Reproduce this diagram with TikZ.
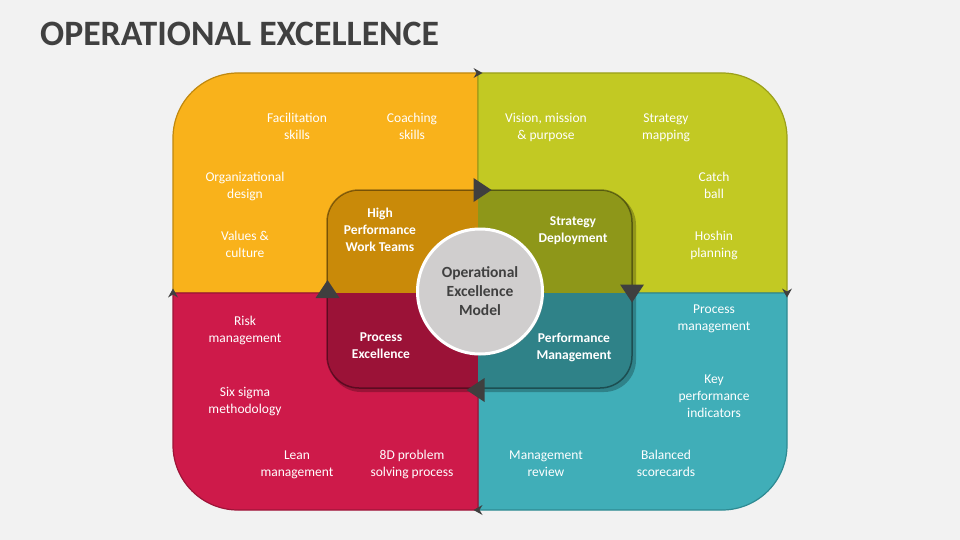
\documentclass[tikz,border=0pt]{standalone}
\usepackage{fontspec}
\setmainfont{Carlito}
\usetikzlibrary{shadows}
\definecolor{bg}{HTML}{F2F2F2}
\definecolor{titlegray}{HTML}{404040}
\definecolor{arrowgray}{HTML}{3F3F3F}
\definecolor{orangeA}{HTML}{F9B21B}
\definecolor{orangeD}{HTML}{C0880E}
\definecolor{orangeB}{HTML}{C98A09}
\definecolor{limeA}{HTML}{C2C923}
\definecolor{limeD}{HTML}{9BA01A}
\definecolor{limeB}{HTML}{8E9719}
\definecolor{redA}{HTML}{CE1A4A}
\definecolor{redD}{HTML}{9E1438}
\definecolor{redB}{HTML}{9B1237}
\definecolor{tealA}{HTML}{40AEB8}
\definecolor{tealD}{HTML}{2E8A92}
\definecolor{tealB}{HTML}{2F8288}
\definecolor{circlegray}{HTML}{D0CECE}
\begin{document}
\begin{tikzpicture}[x=1pt,y=-1pt,
  outerlbl/.style={font=\fontsize{13.5}{17}\selectfont, text=white, align=center, inner sep=0pt,
     execute at begin node=\strut, execute at end node=\strut},
  innerlbl/.style={font=\fontsize{13.5}{17}\selectfont\bfseries, text=white, align=center, inner sep=0pt,
     execute at begin node=\strut, execute at end node=\strut},
  quad/.style={line width=1.2pt},
  chevron/.pic={\fill[arrowgray] (-4.5,-5) -- (4.5,0) -- (-4.5,5) -- (-1.5,0) -- cycle;},
  tripic/.pic={\fill[arrowgray] (-9,-12) -- (9,0) -- (-9,12) -- cycle;}]
\useasboundingbox (0,0) rectangle (960,540);
\fill[bg] (0,0) rectangle (960,540);
\node[anchor=base west, font=\fontsize{35.7}{40}\selectfont\bfseries, text=titlegray, inner sep=0pt] (title) at (40,46) {OPERATIONAL EXCELLENCE};

% outer quadrants
\filldraw[quad, fill=orangeA, draw=orangeD] (478,293) -- (173,293) -- (173,138) arc[start angle=180,end angle=270,radius=65] -- (478,73) -- cycle;
\filldraw[quad, fill=limeA, draw=limeD] (478,73) -- (722,73) arc[start angle=270,end angle=360,radius=65] -- (787,293) -- (478,293) -- cycle;
\filldraw[quad, fill=tealA, draw=tealD] (787,293) -- (787,445) arc[start angle=0,end angle=90,radius=65] -- (478,510) -- (478,293) -- cycle;
\filldraw[quad, fill=redA, draw=redD] (478,510) -- (238,510) arc[start angle=90,end angle=180,radius=65] -- (173,293) -- (478,293) -- cycle;

% outer chevrons
\pic at (478,73) {chevron};
\pic[rotate=-90] at (787,293) {chevron};
\pic[rotate=180] at (478,510) {chevron};
\pic[rotate=90] at (173,293) {chevron};

% inner box shadow
\fill[black, opacity=.25, rounded corners=32pt] (329,193) rectangle (636,392);
\begin{scope}
\clip[rounded corners=32pt] (327,190) rectangle (632,388);
\fill[orangeB] (327,190) rectangle (478,293);
\fill[limeB] (478,190) rectangle (632,293);
\fill[redB] (327,293) rectangle (478,388);
\fill[tealB] (478,293) rectangle (632,388);
\end{scope}
\draw[black, opacity=.4, line width=1.5pt, rounded corners=32pt] (327,190) rectangle (632,388);

% inner triangles
\pic at (482.5,190) {tripic};
\pic[rotate=-90] at (632,293.5) {tripic};
\pic[rotate=180] at (475.5,390) {tripic};
\pic[rotate=90] at (327.5,289) {tripic};

% center circle
\node[circle, minimum size=125pt, inner sep=0pt, fill=circlegray, draw=white, line width=3pt,
      drop shadow={shadow xshift=1.5pt, shadow yshift=-1.5pt, opacity=.3},
      font=\fontsize{15.5}{19}\selectfont\bfseries, text=titlegray, align=center] (model) at (480,291.5)
      {Operational\\Excellence\\Model};

% inner labels
\node[innerlbl] (hpwt) at (380,232.5) {High\\Performance\\Work Teams};
\node[innerlbl] (sd) at (573,232) {Strategy\\Deployment};
\node[innerlbl] (pe) at (381,348.5) {Process\\Excellence};
\node[innerlbl] (pm) at (574,348.5) {Performance\\Management};

% outer labels
\node[outerlbl] (fs) at (297,129) {Facilitation\\skills};
\node[outerlbl] (cs) at (412,129) {Coaching\\skills};
\node[outerlbl] (od) at (245,188) {Organizational\\design};
\node[outerlbl] (vc) at (245,247) {Values \&\\culture};
\node[outerlbl] (vm) at (546,129) {Vision, mission\\\& purpose};
\node[outerlbl] (sm) at (666,129) {Strategy\\mapping};
\node[outerlbl] (cb) at (714,188) {Catch\\ball};
\node[outerlbl] (hp) at (714,247) {Hoshin\\planning};
\node[outerlbl] (rm) at (245,332) {Risk\\management};
\node[outerlbl] (ss) at (245,403) {Six sigma\\methodology};
\node[outerlbl] (lm) at (297,466) {Lean\\management};
\node[outerlbl] (8d) at (412,466) {8D problem\\solving process};
\node[outerlbl] (prm) at (714,320) {Process\\management};
\node[outerlbl] (kpi) at (714,399) {Key\\performance\\indicators};
\node[outerlbl] (mr) at (546,466) {Management\\review};
\node[outerlbl] (bs) at (666,466) {Balanced\\scorecards};
\end{tikzpicture}
\end{document}
